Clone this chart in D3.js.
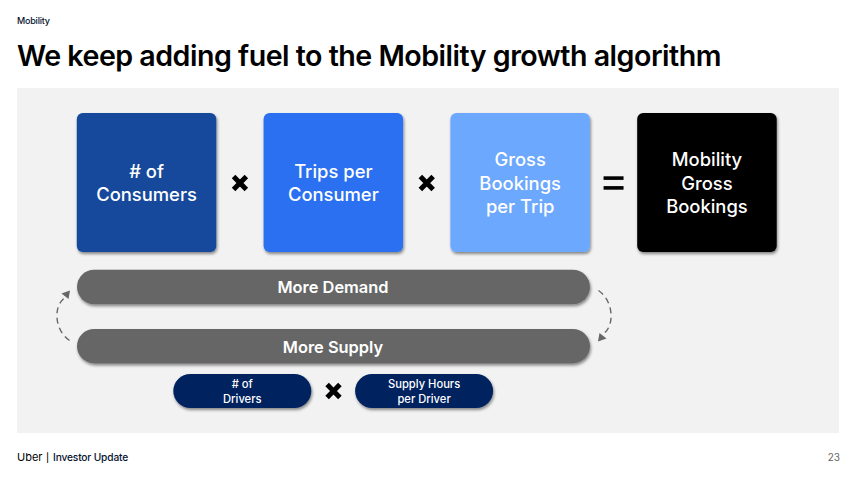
<!DOCTYPE html>
<html>
<head>
<meta charset="utf-8">
<script src="https://cdn.jsdelivr.net/npm/d3@7.8.5/dist/d3.min.js"></script>
<style>
  html, body { margin: 0; padding: 0; background: #fff; }
  text { font-family: Inter, "Noto Sans", sans-serif; }
</style>
</head>
<body>
<div id="chart"></div>
<script>
const FACTORS = ["# of|Consumers", "Trips per|Consumer", "Gross|Bookings|per Trip", "Mobility|Gross|Bookings"];
const FACTOR_COLORS = ["#19489c", "#2a6ff0", "#6ca8fd", "#000000"];
const OPERATORS = ["x", "x", "="];
const LOOP_LABELS = ["More Demand", "More Supply"];
const DRIVER_LABELS = ["# of|Drivers", "Supply Hours|per Driver"];

const W = 855, H = 478;
const BOX_W = 139.5, BOX_Y = 113, BOX_H = 139;
const PILL_X = 77, PILL_W = 513, PILL_H = 34.5;
const SMALL_W = 138, SMALL_H = 34, SMALL_Y = 374;

const svg = d3.select("#chart").append("svg").attr("width", W).attr("height", H)
  .style("display", "block");

const defs = svg.append("defs");
const shadow = defs.append("filter").attr("id", "shadow")
  .attr("x", "-10%").attr("y", "-20%").attr("width", "120%").attr("height", "150%");
shadow.append("feDropShadow").attr("dx", 1).attr("dy", 2).attr("stdDeviation", 1.6)
  .attr("flood-color", "#000").attr("flood-opacity", 0.45);

const boxX = d3.scalePoint().domain(d3.range(FACTORS.length)).range([76.8, 637.2]);
const pillY = d3.scalePoint().domain(LOOP_LABELS).range([269.7, 328.9]);
const smallX = d3.scalePoint().domain(d3.range(DRIVER_LABELS.length)).range([173.3, 355.1]);

function multiline(sel, lines, cx, cy, size, lineH, weight) {
  const y0 = cy - ((lines.length - 1) * lineH) / 2;
  lines.forEach((t, i) => {
    sel.append("text")
      .attr("x", cx).attr("y", y0 + i * lineH)
      .attr("text-anchor", "middle").attr("dominant-baseline", "central")
      .attr("fill", "#fff").attr("font-size", size).attr("font-weight", weight)
      .text(t);
  });
}

// header + footer
svg.append("text").attr("x", 17).attr("y", 24).attr("font-size", 9).attr("font-weight", 500)
  .attr("fill", "#06122e").attr("letter-spacing", -0.2).text("Mobility");
svg.append("text").attr("x", 17).attr("y", 66).attr("font-size", 28.6).attr("font-weight", 600)
  .attr("fill", "#000").attr("letter-spacing", -0.5).text("We keep adding fuel to the Mobility growth algorithm");
svg.append("rect").attr("x", 17).attr("y", 88).attr("width", 822).attr("height", 345).attr("fill", "#f2f2f2");
svg.append("text").attr("x", 17).attr("y", 461).attr("font-size", 11).attr("font-weight", 400)
  .attr("fill", "#000").text("Uber");
svg.append("text").attr("x", 46).attr("y", 460.5).attr("font-size", 9).attr("font-weight", 500)
  .attr("fill", "#000").text("|");
svg.append("text").attr("x", 53).attr("y", 460.5).attr("font-size", 10.2).attr("font-weight", 500)
  .attr("fill", "#06122e").attr("letter-spacing", -0.15).text("Investor Update");
svg.append("text").attr("x", 840).attr("y", 460.5).attr("text-anchor", "end").attr("font-size", 10)
  .attr("fill", "#666").text("23");

// factor boxes
FACTORS.forEach((label, i) => {
  const g = svg.append("g");
  g.append("rect").attr("x", boxX(i)).attr("y", BOX_Y).attr("width", BOX_W).attr("height", BOX_H)
    .attr("rx", 6).attr("fill", FACTOR_COLORS[i]).attr("filter", "url(#shadow)");
  const lines = label.split("|");
  multiline(g, lines, boxX(i) + BOX_W / 2, BOX_Y + BOX_H / 2, 18.4, lines.length === 2 ? 23 : 23.7, 500);
});

function drawCross(cx, cy, r, sw) {
  const p = d3.path();
  p.moveTo(cx - r, cy - r); p.lineTo(cx + r, cy + r);
  p.moveTo(cx + r, cy - r); p.lineTo(cx - r, cy + r);
  svg.append("path").attr("d", p.toString()).attr("stroke", "#000").attr("stroke-width", sw).attr("fill", "none");
}

// operators sit in the gap between boxes
OPERATORS.forEach((op, i) => {
  const cx = (boxX(i) + BOX_W + boxX(i + 1)) / 2;
  const cy = 183;
  if (op === "x") {
    drawCross(cx, cy, 6.4, 5);
  } else {
    svg.append("rect").attr("x", cx - 10).attr("y", cy - 6.7).attr("width", 20).attr("height", 3.6);
    svg.append("rect").attr("x", cx - 10).attr("y", cy + 3.1).attr("width", 20).attr("height", 3.6);
  }
});

// more demand / more supply
LOOP_LABELS.forEach((label) => {
  svg.append("rect").attr("x", PILL_X).attr("y", pillY(label)).attr("width", PILL_W).attr("height", PILL_H)
    .attr("rx", PILL_H / 2).attr("fill", "#666").attr("filter", "url(#shadow)");
  svg.append("text").attr("x", PILL_X + PILL_W / 2 - 0.5).attr("y", pillY(label) + PILL_H / 2 + 0.4)
    .attr("text-anchor", "middle").attr("dominant-baseline", "central")
    .attr("fill", "#fff").attr("font-size", 16.4).attr("font-weight", 600).text(label);
});

// drivers x hours
DRIVER_LABELS.forEach((label, i) => {
  const g = svg.append("g");
  g.append("rect").attr("x", smallX(i)).attr("y", SMALL_Y).attr("width", SMALL_W).attr("height", SMALL_H)
    .attr("rx", SMALL_H / 2).attr("fill", "#00235f").attr("filter", "url(#shadow)");
  multiline(g, label.split("|"), smallX(i) + SMALL_W / 2, SMALL_Y + SMALL_H / 2 + 0.5, 11.2, 15, 500);
});
drawCross(333.5, 391, 6.4, 5);

// dashed loop arrows
function drawLoop(x0, y0, y1, bulge) {
  const p = d3.path();
  p.moveTo(x0, y0);
  p.bezierCurveTo(x0 + bulge, y0 + (y1 - y0) * 0.22, x0 + bulge, y0 + (y1 - y0) * 0.78, x0 + bulge * 0.1, y1 - Math.sign(y1 - y0) * 6);
  svg.append("path").attr("d", p.toString()).attr("fill", "none").attr("stroke", "#666")
    .attr("stroke-width", 1.4).attr("stroke-dasharray", "6 4.4");
  const dir = Math.sign(y1 - y0), side = Math.sign(bulge);
  const tip = [x0 - side * 0.5, y1];
  const head = [tip, [tip[0] + side * 8.5, y1 - dir * 3], [tip[0] + side * 1.5, y1 - dir * 8.5]];
  svg.append("path").attr("d", d3.line()(head) + "Z").attr("fill", "#666");
}
drawLoop(598.5, 290.5, 341.5, 16.5);
drawLoop(69.5, 340.5, 290.5, -16.5);
</script>
</body>
</html>
